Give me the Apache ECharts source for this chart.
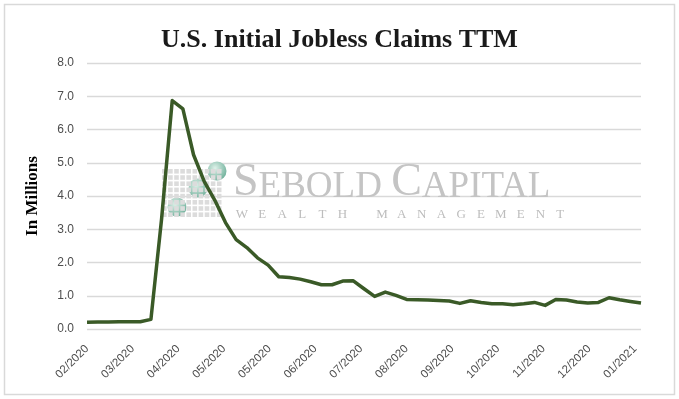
<!DOCTYPE html>
<html>
<head>
<meta charset="utf-8">
<script src="https://cdn.jsdelivr.net/npm/echarts@6/dist/echarts.min.js"></script>
<style>
html,body{margin:0;padding:0;background:#fff;}
#main{width:679px;height:399px;}
</style>
</head>
<body>
<div id="main"></div>
<script>
// 每周的日期(周六),从 2020-02-01 到 2021-01-30
var weeks = ['2020-02-01','2020-02-08','2020-02-15','2020-02-22','2020-02-29',
    '2020-03-07','2020-03-14','2020-03-21','2020-03-28',
    '2020-04-04','2020-04-11','2020-04-18','2020-04-25',
    '2020-05-02','2020-05-09','2020-05-16','2020-05-23','2020-05-30',
    '2020-06-06','2020-06-13','2020-06-20','2020-06-27',
    '2020-07-04','2020-07-11','2020-07-18','2020-07-25',
    '2020-08-01','2020-08-08','2020-08-15','2020-08-22','2020-08-29',
    '2020-09-05','2020-09-12','2020-09-19','2020-09-26',
    '2020-10-03','2020-10-10','2020-10-17','2020-10-24','2020-10-31',
    '2020-11-07','2020-11-14','2020-11-21','2020-11-28',
    '2020-12-05','2020-12-12','2020-12-19','2020-12-26',
    '2021-01-02','2021-01-09','2021-01-16','2021-01-23','2021-01-30']

// 初请人数,单位百万
var claims = [0.20,0.21,0.21,0.22,0.22,
    0.22,0.29,3.31,6.87,
    6.62,5.24,4.44,3.87,
    3.20,2.69,2.45,2.14,1.92,
    1.57,1.55,1.50,1.42,
    1.33,1.33,1.44,1.45,
    1.21,0.98,1.11,1.01,0.89,
    0.88,0.87,0.86,0.84,
    0.77,0.85,0.80,0.76,0.76,
    0.73,0.76,0.80,0.71,
    0.89,0.87,0.81,0.78,
    0.80,0.94,0.88,0.83,0.78]

// y轴刻度
var yTicks = [0,1,2,3,4,5,6,7,8]

// x轴是按天算的,每30天一个标签(跟excel一样)
var startDay = Date.UTC(2020,1,1)
var dayMs = 86400000
var labelStep = 30

function dayOffset(s){
    var p = s.split('-')
    return Math.round((Date.UTC(+p[0],+p[1]-1,+p[2])-startDay)/dayMs)
}

function monthLabel(v){
    var d = new Date(startDay+v*dayMs)
    var m = d.getUTCMonth()+1
    return (m<10?'0'+m:''+m)+'/'+d.getUTCFullYear()
}

var seriesData = weeks.map(function(w,i){
    return [dayOffset(w),claims[i]]
})

// 水印 logo 的小方格
var logoCells = []
for(var r=0;r<8;r++){
    for(var c=0;c<10;c++){
        logoCells.push({
            type:'rect',
            z:1,
            silent:true,
            shape:{x:162+c*6.1,y:169+r*6.2,width:4.6,height:4.6},
            style:{fill:'#dcdcdc'}
        })
    }
}

function ball(cx,cy){
    return {
        type:'circle',
        z:1,
        silent:true,
        shape:{cx:cx,cy:cy,r:9.5},
        style:{
            fill:new echarts.graphic.RadialGradient(0.4,0.35,0.7,[
                {offset:0,color:'#dff2ea'},
                {offset:1,color:'#6cae98'}
            ])
        }
    }
}

var wealth = 'WEALTH'.split('').map(function(ch,i){
    return {type:'text',z:1,silent:true,style:{text:ch,x:242+i*20.1,y:221,fill:'#bdbdbd',
        font:'13px "Liberation Serif"',align:'center',verticalAlign:'bottom'}}
})
var mgmt = 'MANAGEMENT'.split('').map(function(ch,i){
    return {type:'text',z:1,silent:true,style:{text:ch,x:382+i*19.8,y:221,fill:'#bdbdbd',
        font:'13px "Liberation Serif"',align:'center',verticalAlign:'bottom'}}
})

var graphics = [
    {type:'rect',z:0,silent:true,shape:{x:4.5,y:4.5,width:670,height:390},
        style:{fill:'none',stroke:'#d9d9d9',lineWidth:1.5}},
    {type:'text',z:1,silent:true,
        style:{
            text:'{a|S}{b|EBOLD}{b|\u00a0}{a|C}{b|APITAL}',
            x:233,y:206,
            verticalAlign:'bottom',
            fill:'#c4c4c4',
            rich:{
                a:{fontSize:46,fontFamily:'Liberation Serif',color:'#c4c4c4',verticalAlign:'bottom'},
                b:{fontSize:37,fontFamily:'Liberation Serif',color:'#c4c4c4',verticalAlign:'bottom'}
            }
        }},
    ball(217,171),ball(198,188),ball(177,207)
].concat(logoCells,wealth,mgmt)

var myChart = echarts.init(document.getElementById('main'))
var option = {
    animation:false,
    backgroundColor:'#fff',
    title:{
        text:'U.S. Initial Jobless Claims TTM',
        left:'center',
        top:22,
        textStyle:{fontFamily:'Liberation Serif',fontSize:26,fontWeight:'bold',color:'#1a1a1a'}
    },
    grid:{left:87,right:38,top:63,bottom:70,containLabel:false},
    xAxis:{
        type:'value',
        min:0,
        max:dayOffset(weeks[weeks.length-1]),
        interval:labelStep,
        splitLine:{show:false},
        axisLine:{show:false},
        axisTick:{show:false},
        axisLabel:{
            rotate:45,
            margin:18,
            showMaxLabel:false,
            color:'#4d4d4d',
            fontFamily:'Liberation Sans',
            fontSize:11.5,
            formatter:monthLabel
        }
    },
    yAxis:{
        type:'value',
        min:yTicks[0],
        max:yTicks[yTicks.length-1],
        interval:1,
        name:'In Millions',
        nameLocation:'middle',
        nameGap:46,
        nameRotate:90,
        nameTextStyle:{fontFamily:'Liberation Serif',fontWeight:'bold',fontSize:17,color:'#000'},
        axisLine:{show:false},
        axisTick:{show:false},
        splitLine:{lineStyle:{color:'#d9d9d9',width:1.3}},
        axisLabel:{
            color:'#4d4d4d',
            fontFamily:'Liberation Sans',
            fontSize:12,
            margin:13,
            formatter:function(v){return v.toFixed(1)}
        }
    },
    graphic:graphics,
    series:[
        {
            type:'line',
            data:seriesData,
            showSymbol:false,
            z:3,
            lineStyle:{color:'#3a5a27',width:3.5,join:'round'}
        }
    ]
}
myChart.setOption(option)
</script>
</body>
</html>
